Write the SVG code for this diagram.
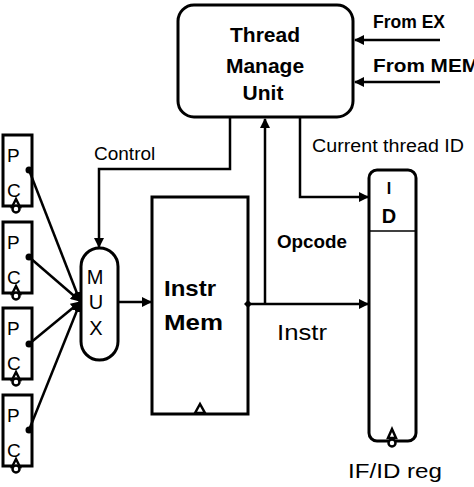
<svg xmlns="http://www.w3.org/2000/svg" width="474" height="487" viewBox="0 0 474 487">
<style>
.box{fill:#fff;stroke:#000;stroke-width:3}
.ln{fill:none;stroke:#000;stroke-width:2.5}
.t{font-family:"Liberation Sans",Arial,sans-serif;fill:#000}
.b{font-weight:bold}
.clk{fill:#fff;stroke:#000;stroke-width:2.5}
</style>
<defs>
<marker id="ah" viewBox="0 0 10 10" refX="9" refY="5" markerWidth="4" markerHeight="4" markerUnits="strokeWidth" orient="auto">
<path d="M0,0 L10,5 L0,10 z" fill="#000"/>
</marker>
</defs>
<rect width="474" height="487" fill="#fff"/>

<g id="pc1">
<rect class="box" x="3" y="135" width="29" height="71"/>
<text class="t" x="7" y="162" font-size="19">P</text>
<text class="t" x="7" y="197" font-size="19">C</text>
<path class="clk" d="M12,207 L16,199 L20,207 z"/>
<circle class="clk" cx="16" cy="209" r="3.5"/>
</g>
<g id="pc2">
<rect class="box" x="3" y="222" width="29" height="71"/>
<text class="t" x="7" y="249" font-size="19">P</text>
<text class="t" x="7" y="284" font-size="19">C</text>
<path class="clk" d="M12,294 L16,286 L20,294 z"/>
<circle class="clk" cx="16" cy="296" r="3.5"/>
</g>
<g id="pc3">
<rect class="box" x="3" y="308" width="29" height="71"/>
<text class="t" x="7" y="335" font-size="19">P</text>
<text class="t" x="7" y="370" font-size="19">C</text>
<path class="clk" d="M12,380 L16,372 L20,380 z"/>
<circle class="clk" cx="16" cy="382" r="3.5"/>
</g>
<g id="pc4">
<rect class="box" x="3" y="395" width="29" height="71"/>
<text class="t" x="7" y="422" font-size="19">P</text>
<text class="t" x="7" y="457" font-size="19">C</text>
<path class="clk" d="M12,467 L16,459 L20,467 z"/>
<circle class="clk" cx="16" cy="469" r="3.5"/>
</g>

<g id="mux">
<rect class="box" x="81" y="248" width="37" height="112" rx="18.5"/>
<text class="t" x="95" y="284" font-size="20" text-anchor="middle">M</text>
<text class="t" x="96" y="309" font-size="20" text-anchor="middle">U</text>
<text class="t" x="96" y="335" font-size="20" text-anchor="middle">X</text>
</g>

<g id="instrmem">
<rect class="box" x="152" y="197" width="96" height="217"/>
<text class="t b" x="164" y="296" font-size="22" textLength="52" lengthAdjust="spacingAndGlyphs">Instr</text>
<text class="t b" x="164" y="330" font-size="22" textLength="59" lengthAdjust="spacingAndGlyphs">Mem</text>
<path class="clk" d="M195,413 L200,404 L205,413 z"/>
</g>

<g id="tmu">
<rect class="box" x="178" y="5" width="175" height="112" rx="16"/>
<text class="t b" x="265" y="42" font-size="21" text-anchor="middle">Thread</text>
<text class="t b" x="265" y="73" font-size="21" text-anchor="middle">Manage</text>
<text class="t b" x="263" y="100" font-size="21" text-anchor="middle">Unit</text>
</g>

<g id="ifid">
<rect class="box" x="369" y="170" width="47" height="271" rx="8"/>
<line x1="369" y1="231" x2="416" y2="231" stroke="#000" stroke-width="1.5"/>
<text class="t b" x="389" y="194" font-size="16" text-anchor="middle">I</text>
<text class="t b" x="389" y="223" font-size="20" text-anchor="middle">D</text>
<path class="clk" d="M388,438 L392,429 L396,438 z"/>
<circle class="clk" cx="392" cy="443" r="3.5"/>
<text class="t" x="348" y="478" font-size="21" textLength="94" lengthAdjust="spacingAndGlyphs">IF/ID reg</text>
</g>

<g id="connectors">
<line class="ln" x1="29" y1="170" x2="80" y2="301" marker-end="url(#ah)"/>
<line class="ln" x1="29" y1="257" x2="80" y2="301" marker-end="url(#ah)"/>
<line class="ln" x1="29" y1="344" x2="80" y2="302" marker-end="url(#ah)"/>
<line class="ln" x1="29" y1="430" x2="80" y2="303" marker-end="url(#ah)"/>
<polyline class="ln" points="230,118 230,169 99,169 99,247" marker-end="url(#ah)"/>
<line class="ln" x1="118" y1="302" x2="151" y2="302" marker-end="url(#ah)"/>
<line class="ln" x1="248" y1="304" x2="368" y2="304" marker-end="url(#ah)"/>
<line class="ln" x1="265" y1="304" x2="265" y2="119" marker-end="url(#ah)"/>
<polyline class="ln" points="300,118 300,197 368,197" marker-end="url(#ah)"/>
<line class="ln" x1="440" y1="40" x2="355" y2="40" marker-end="url(#ah)"/>
<line class="ln" x1="440" y1="82" x2="355" y2="82" marker-end="url(#ah)"/>
<circle cx="29" cy="170" r="3.5"/>
<circle cx="29" cy="257" r="3.5"/>
<circle cx="29" cy="344" r="3.5"/>
<circle cx="29" cy="430" r="3.5"/>
<path d="M248,300 L252,304 L248,308 L244,304 z"/>
<text class="t" x="94" y="160" font-size="19">Control</text>
<text class="t" x="312" y="152" font-size="18" textLength="152" lengthAdjust="spacingAndGlyphs">Current thread ID</text>
<text class="t b" x="277" y="248" font-size="18" textLength="70" lengthAdjust="spacingAndGlyphs">Opcode</text>
<text class="t" x="277" y="340" font-size="22" textLength="50" lengthAdjust="spacingAndGlyphs">Instr</text>
<text class="t b" x="373" y="28" font-size="18" textLength="72" lengthAdjust="spacingAndGlyphs">From EX</text>
<text class="t b" x="373" y="72" font-size="18" textLength="106" lengthAdjust="spacingAndGlyphs">From MEM</text>
</g>
</svg>
